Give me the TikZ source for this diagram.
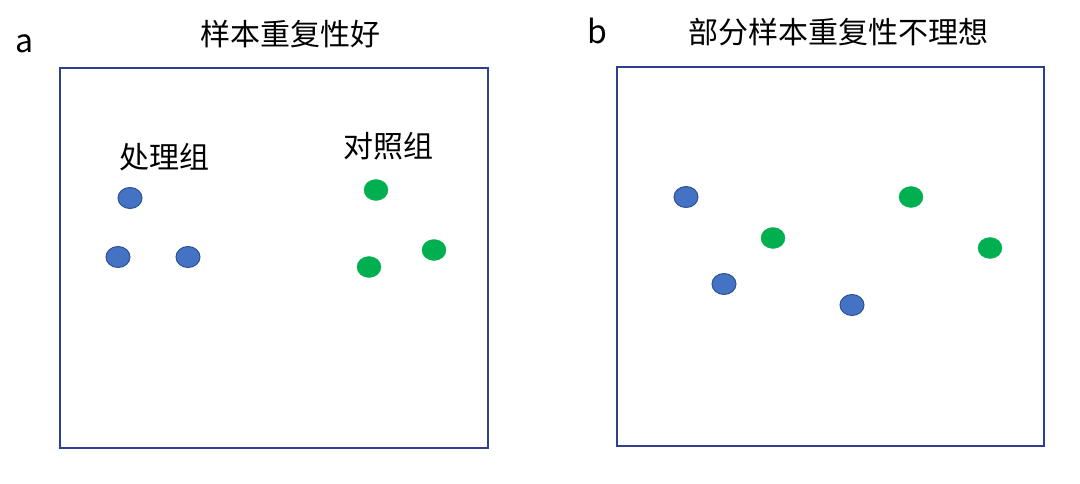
\documentclass[tikz,border=0pt]{standalone}
\usepackage{fontspec}
\setmainfont{Noto Sans CJK SC}
\definecolor{dotblue}{HTML}{4472C4}
\definecolor{dotedge}{HTML}{2F528F}
\definecolor{dotgreen}{HTML}{00B050}
\definecolor{frame}{HTML}{2F3F8F}
\tikzset{
  panel/.style={draw=frame, line width=1.2pt},
  bdot/.style={ellipse, fill=dotblue, draw=dotedge, line width=1pt, minimum width=24pt, minimum height=21pt, inner sep=0pt},
  gdot/.style={ellipse, fill=dotgreen, draw=dotgreen, minimum width=24pt, minimum height=21pt, inner sep=0pt},
  txt/.style={font=\fontsize{30}{32}\selectfont},
  tag/.style={font=\fontsize{32}{34}\selectfont}
}
\usetikzlibrary{shapes.geometric}
\begin{document}
\begin{tikzpicture}[x=1pt,y=-1pt]
  \useasboundingbox (0,0) rectangle (1080,484);
  % panel a
  \node[tag] (taga) at (25,44) {a};
  \node[txt] (titlea) at (290,34) {样本重复性好};
  \draw[panel] (60,68) rectangle (488,448);
  \node[txt] (treat) at (164,157) {处理组};
  \node[txt] (ctrl) at (388,146) {对照组};
  \node[bdot] (a1) at (130,198) {};
  \node[bdot] (a2) at (118,257) {};
  \node[bdot] (a3) at (188,257) {};
  \node[gdot] (a4) at (376,190) {};
  \node[gdot] (a5) at (434,250) {};
  \node[gdot] (a6) at (369,267) {};
  % panel b
  \node[tag] (tagb) at (597,31) {b};
  \node[txt] (titleb) at (838,32) {部分样本重复性不理想};
  \draw[panel] (617,67) rectangle (1044,446);
  \node[bdot] (b1) at (686,197) {};
  \node[bdot] (b2) at (724,284) {};
  \node[bdot] (b3) at (852,305) {};
  \node[gdot] (b4) at (773,238) {};
  \node[gdot] (b5) at (911,197) {};
  \node[gdot] (b6) at (990,248) {};
\end{tikzpicture}
\end{document}
